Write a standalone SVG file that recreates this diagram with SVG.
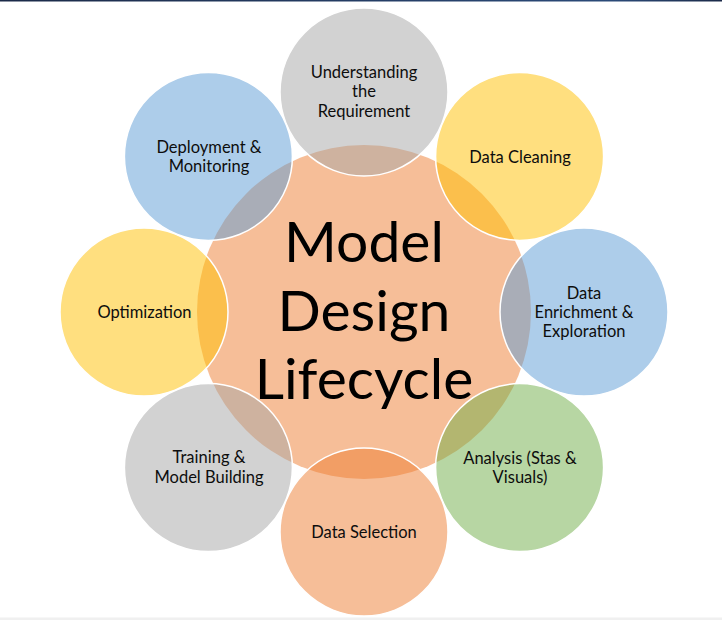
<svg xmlns="http://www.w3.org/2000/svg" width="722" height="620" viewBox="0 0 722 620">
<style>
.o{stroke:#fff;stroke-width:1.5;fill-opacity:0.5}
.t{font-family:Lato,"Open Sans","Liberation Sans",sans-serif;font-size:16.5px;fill:#0d0d0d;text-anchor:middle}
.c{font-family:Lato,"Open Sans","Liberation Sans",sans-serif;font-size:57px;fill:#000;text-anchor:middle}
</style>
<defs>
<linearGradient id="bar" x1="0" x2="1" y1="0" y2="0">
<stop offset="0" stop-color="#1B2A48"/>
<stop offset="0.85" stop-color="#2B4A78"/>
<stop offset="1" stop-color="#1B2A48"/>
</linearGradient>
</defs>
<rect x="0" y="0" width="722" height="620" fill="#fff"/>
<rect x="0" y="0" width="722" height="1.5" fill="url(#bar)"/>
<rect x="0" y="617.5" width="722" height="2.5" fill="#F0F0F0"/>
<g id="connectors"></g>
<g id="center">
<circle cx="364" cy="312" r="167" fill="#ED7D31" fill-opacity="0.5"/>
<text class="c" x="364" y="262">Model</text>
<text class="c" x="364" y="331">Design</text>
<text class="c" x="364" y="399">Lifecycle</text>
</g>
<g id="understanding">
<circle class="o" cx="364" cy="92" r="84" fill="#A5A5A5"/>
<text class="t" x="364" y="78">Understanding</text>
<text class="t" x="364" y="97.3">the</text>
<text class="t" x="364" y="116.6">Requirement</text>
</g>
<g id="cleaning">
<circle class="o" cx="519.6" cy="156.4" r="84" fill="#FFC000"/>
<text class="t" x="520" y="163">Data Cleaning</text>
</g>
<g id="enrichment">
<circle class="o" cx="584" cy="312" r="84" fill="#5B9BD5"/>
<text class="t" x="584" y="298.5">Data</text>
<text class="t" x="584" y="317.8">Enrichment &amp;</text>
<text class="t" x="584" y="337.1">Exploration</text>
</g>
<g id="analysis">
<circle class="o" cx="519.6" cy="467.6" r="84" fill="#70AD47"/>
<text class="t" x="520" y="463.5">Analysis (Stas &amp;</text>
<text class="t" x="520" y="482.8">Visuals)</text>
</g>
<g id="selection">
<circle class="o" cx="364" cy="532" r="84" fill="#ED7D31"/>
<text class="t" x="364" y="538">Data Selection</text>
</g>
<g id="training">
<circle class="o" cx="208.4" cy="467.6" r="84" fill="#A5A5A5"/>
<text class="t" x="209" y="463.3">Training &amp;</text>
<text class="t" x="209" y="482.6">Model Building</text>
</g>
<g id="optimization">
<circle class="o" cx="144" cy="312" r="84" fill="#FFC000"/>
<text class="t" x="144.5" y="318">Optimization</text>
</g>
<g id="deployment">
<circle class="o" cx="208.4" cy="156.4" r="84" fill="#5B9BD5"/>
<text class="t" x="209" y="153">Deployment &amp;</text>
<text class="t" x="209" y="172.3">Monitoring</text>
</g>
</svg>
